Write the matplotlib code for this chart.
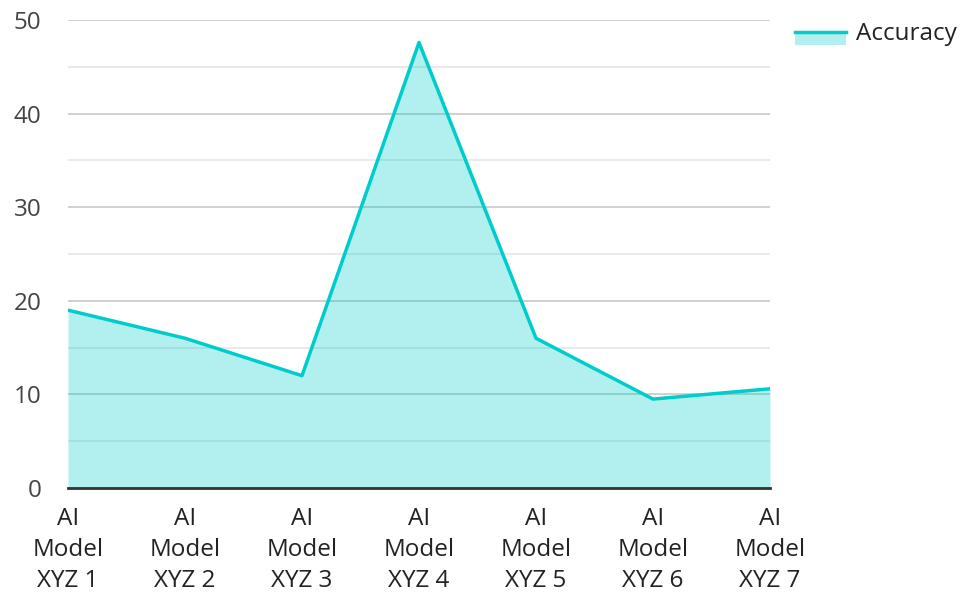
import matplotlib.pyplot as plt
from matplotlib.legend_handler import HandlerBase
from matplotlib.patches import Rectangle
from matplotlib.lines import Line2D
from matplotlib.ticker import MultipleLocator

plt.rcParams['font.family'] = ['Open Sans', 'DejaVu Sans']

models = ["AI\nModel\nXYZ 1", "AI\nModel\nXYZ 2", "AI\nModel\nXYZ 3", "AI\nModel\nXYZ 4",
          "AI\nModel\nXYZ 5", "AI\nModel\nXYZ 6", "AI\nModel\nXYZ 7"]
accuracy = [19, 16, 12, 47.6, 16, 9.5, 10.6]

LINE_COLOR = "#00cccc"
FS = 17.5


class AreaHandler(HandlerBase):
    # filled box with the line drawn along its top edge
    def create_artists(self, legend, orig, xd, yd, width, height, fontsize, trans):
        bottom = yd - 0.3 * height
        top = yd + 0.45 * height
        rect = Rectangle((xd, bottom), width, top - bottom, facecolor=LINE_COLOR,
                         alpha=0.3, edgecolor="none", transform=trans)
        line = Line2D([xd, xd + width], [top, top], color=LINE_COLOR, lw=2.5,
                      transform=trans)
        return [rect, line]


fig = plt.figure(figsize=(9.6, 5.92), dpi=100)
ax = fig.add_axes([68 / 960, 104 / 592, 702 / 960, 468 / 592])

x = range(len(models))
ax.fill_between(x, accuracy, 0, color=LINE_COLOR, alpha=0.3, lw=0, zorder=2)
ax.plot(x, accuracy, color=LINE_COLOR, lw=2.5, zorder=3)

ax.set_xlim(0, len(models) - 1)
ax.set_ylim(0, 50)
ax.yaxis.set_major_locator(MultipleLocator(10))
ax.yaxis.set_minor_locator(MultipleLocator(5))
ax.set_xticks(list(x))
ax.set_xticklabels(models, fontsize=FS, color="#222222", linespacing=1.38)
ax.tick_params(axis="y", labelsize=FS, labelcolor="#444444", length=0, pad=19)
ax.tick_params(axis="y", which="minor", length=0)
ax.tick_params(axis="x", length=0, pad=14)

ax.grid(axis="y", which="major", color="#c8c8c8", lw=1.2, zorder=1)
ax.grid(axis="y", which="minor", color="#e6e6e6", lw=1.2, zorder=1)
ax.set_axisbelow(True)

for side in ["top", "right", "left"]:
    ax.spines[side].set_visible(False)
ax.spines["bottom"].set_color("#333333")
ax.spines["bottom"].set_linewidth(2)
ax.spines["bottom"].set_zorder(4)

ax.legend([Rectangle((0, 0), 1, 1)], ["Accuracy"], handler_map={Rectangle: AreaHandler()},
          loc="upper left", bbox_to_anchor=(795 / 960, 1 - 22 / 592), bbox_transform=fig.transFigure,
          frameon=False, fontsize=FS, handlelength=2.1, handletextpad=0.4,
          borderpad=0, borderaxespad=0, labelcolor="#222222")

fig.savefig("out.png", dpi=100)
